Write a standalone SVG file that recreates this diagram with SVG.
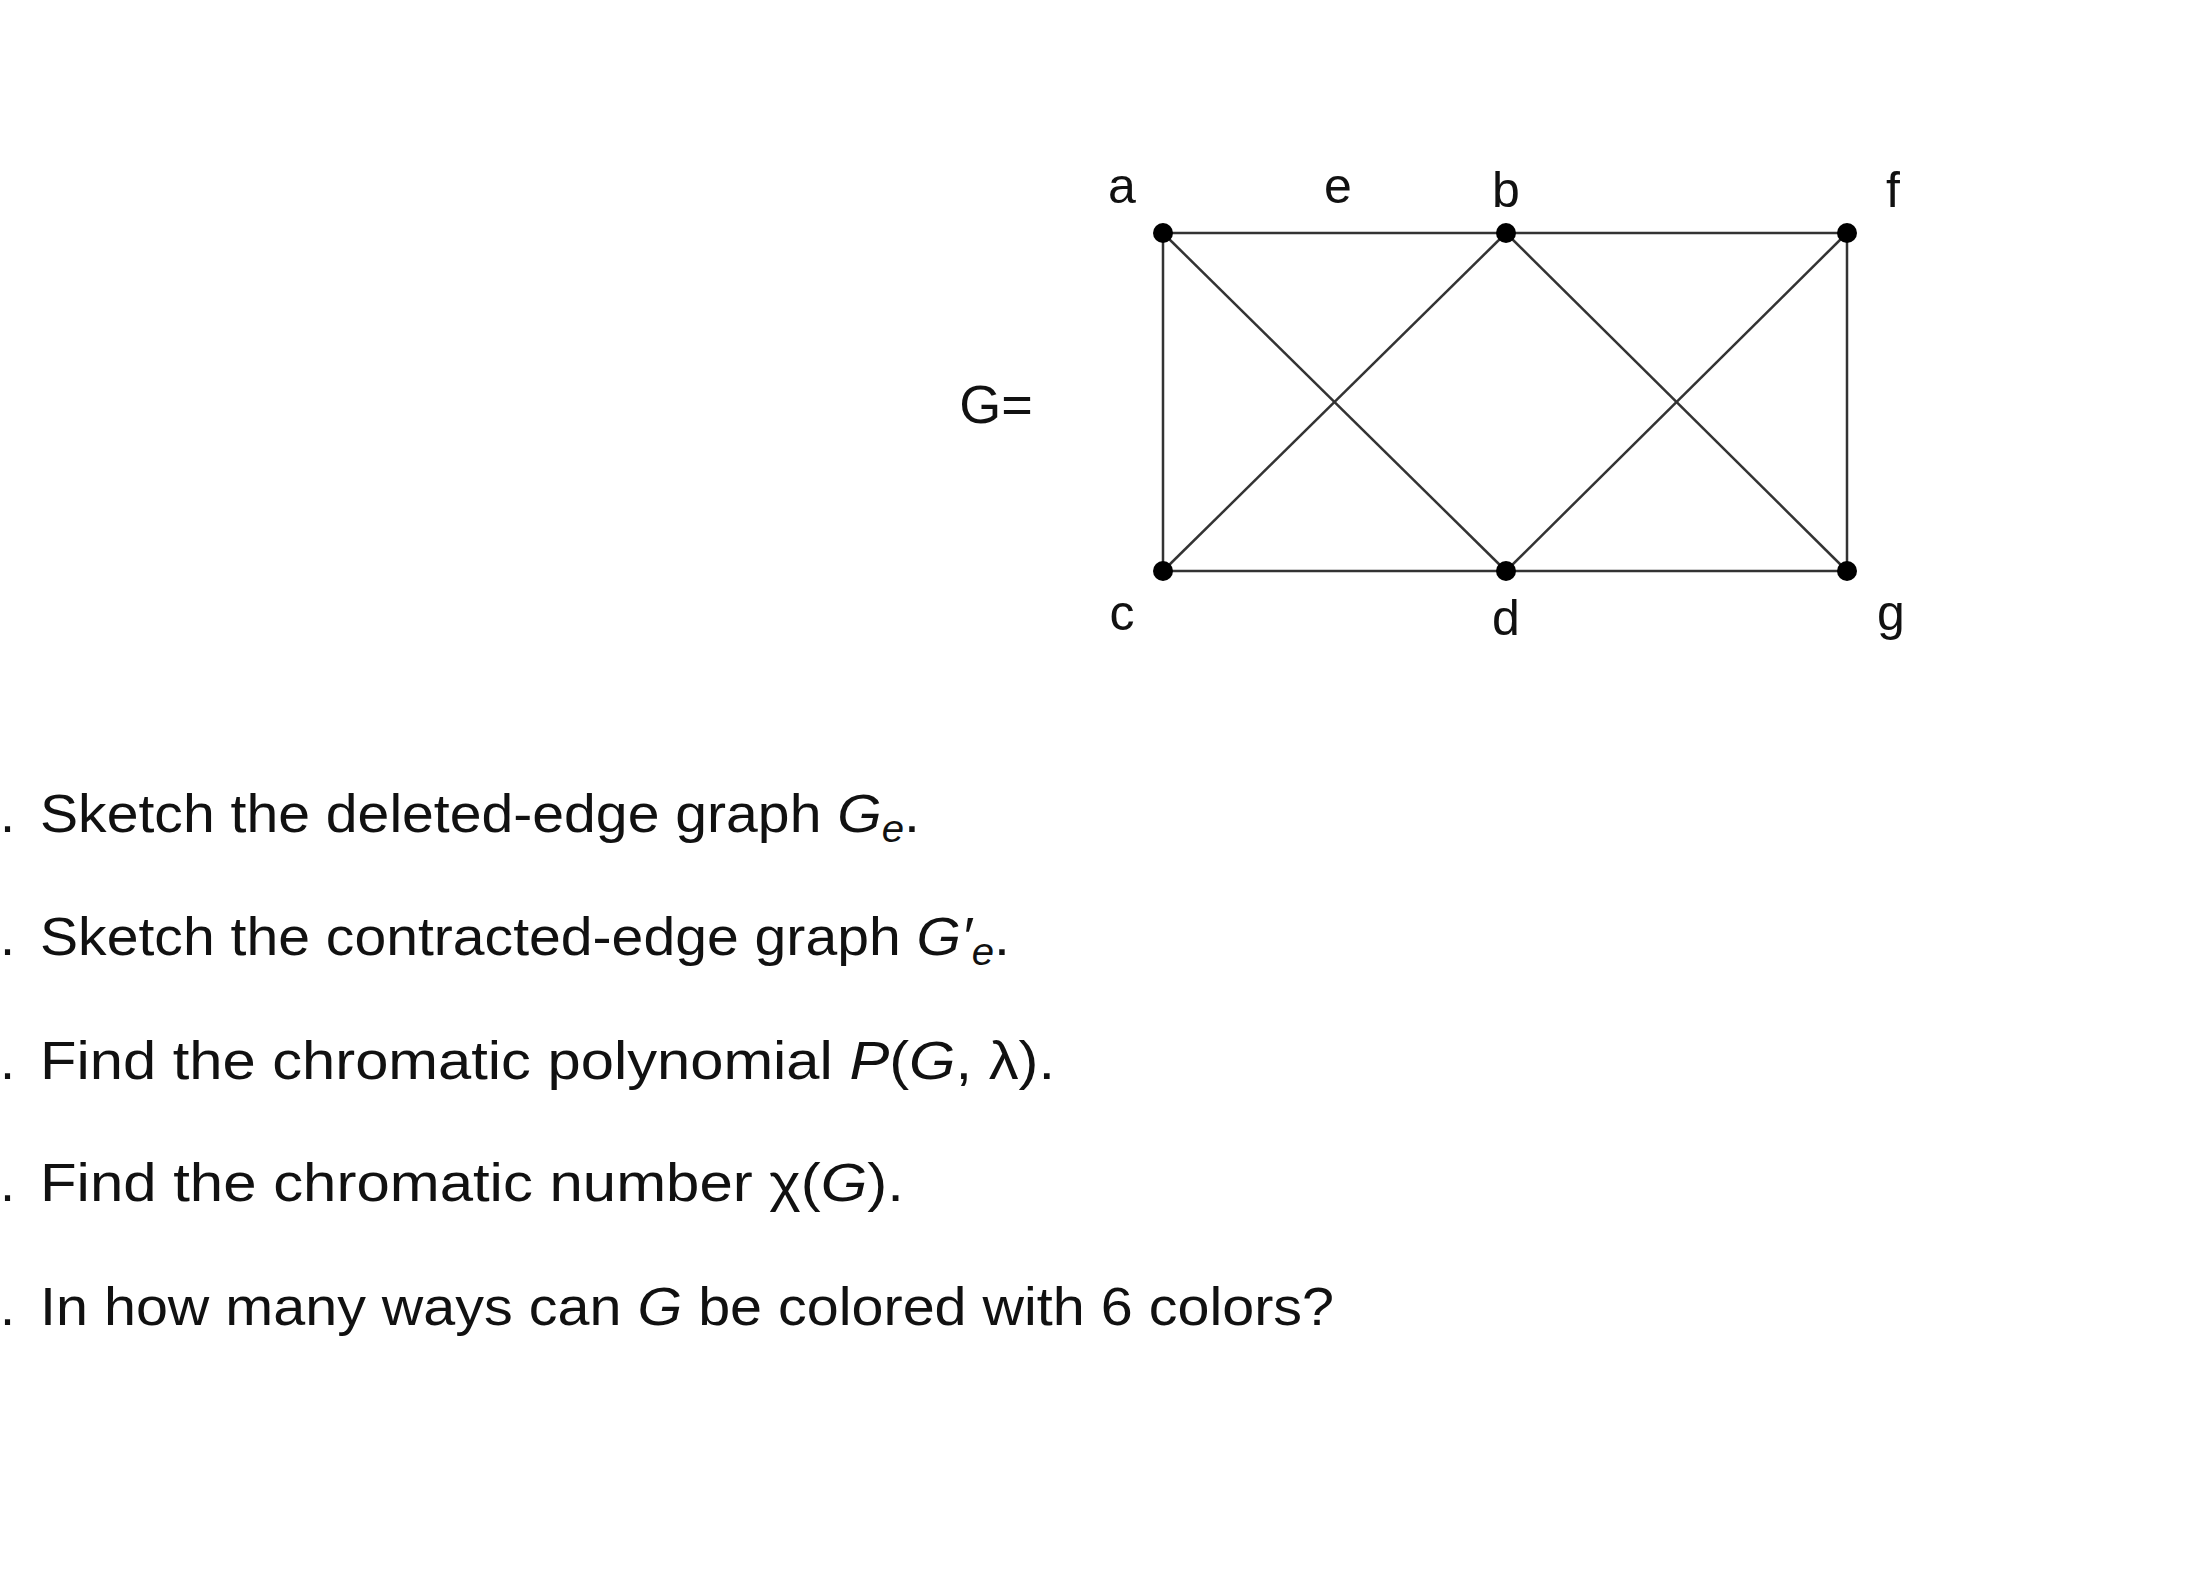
<svg xmlns="http://www.w3.org/2000/svg" width="2200" height="1569" viewBox="0 0 2200 1569">
<style>
.e{stroke:#333;stroke-width:2.5;fill:none}
.n{fill:#000}
.l{font-family:"Liberation Sans",Arial,sans-serif;font-size:50px;fill:#111;text-anchor:middle}
.t{font-family:"Liberation Sans",Arial,sans-serif;font-size:54px;fill:#111}
.i{font-style:italic}
</style>
<rect width="2200" height="1569" fill="#fff"/>
<g id="connectors">
<line class="e" x1="1163" y1="233" x2="1847" y2="233"/>
<line class="e" x1="1163" y1="571" x2="1847" y2="571"/>
<line class="e" x1="1163" y1="233" x2="1163" y2="571"/>
<line class="e" x1="1847" y1="233" x2="1847" y2="571"/>
<line class="e" x1="1163" y1="233" x2="1506" y2="571"/>
<line class="e" x1="1163" y1="571" x2="1506" y2="233"/>
<line class="e" x1="1506" y1="233" x2="1847" y2="571"/>
<line class="e" x1="1506" y1="571" x2="1847" y2="233"/>
</g>
<g id="node-a"><circle class="n" cx="1163" cy="233" r="10"/><text class="l" x="1122" y="203">a</text></g>
<g id="node-b"><circle class="n" cx="1506" cy="233" r="10"/><text class="l" x="1506" y="207">b</text></g>
<g id="node-f"><circle class="n" cx="1847" cy="233" r="10"/><text class="l" x="1893" y="207">f</text></g>
<g id="node-c"><circle class="n" cx="1163" cy="571" r="10"/><text class="l" x="1122" y="630">c</text></g>
<g id="node-d"><circle class="n" cx="1506" cy="571" r="10"/><text class="l" x="1506" y="635">d</text></g>
<g id="node-g"><circle class="n" cx="1847" cy="571" r="10"/><text class="l" x="1891" y="630">g</text></g>
<text class="l" x="1338" y="203">e</text>
<text class="l" x="996" y="423" style="font-size:54px">G=</text>
<g id="questions">
<text class="t" x="0" y="832">.</text>
<text class="t" x="40" y="832" textLength="880" lengthAdjust="spacingAndGlyphs">Sketch the deleted-edge graph <tspan class="i">G</tspan><tspan class="i" dy="10" font-size="38">e</tspan><tspan dy="-10">.</tspan></text>
<text class="t" x="0" y="955">.</text>
<text class="t" x="40" y="955" textLength="970" lengthAdjust="spacingAndGlyphs">Sketch the contracted-edge graph <tspan class="i">G′</tspan><tspan class="i" dy="10" font-size="38">e</tspan><tspan dy="-10">.</tspan></text>
<text class="t" x="0" y="1079">.</text>
<text class="t" x="40" y="1079" textLength="1015" lengthAdjust="spacingAndGlyphs">Find the chromatic polynomial <tspan class="i">P</tspan>(<tspan class="i">G</tspan>, λ).</text>
<text class="t" x="0" y="1201">.</text>
<text class="t" x="40" y="1201" textLength="864" lengthAdjust="spacingAndGlyphs">Find the chromatic number χ(<tspan class="i">G</tspan>).</text>
<text class="t" x="0" y="1325">.</text>
<text class="t" x="40" y="1325" textLength="1294" lengthAdjust="spacingAndGlyphs">In how many ways can <tspan class="i">G</tspan> be colored with 6 colors?</text>
</g>
</svg>
